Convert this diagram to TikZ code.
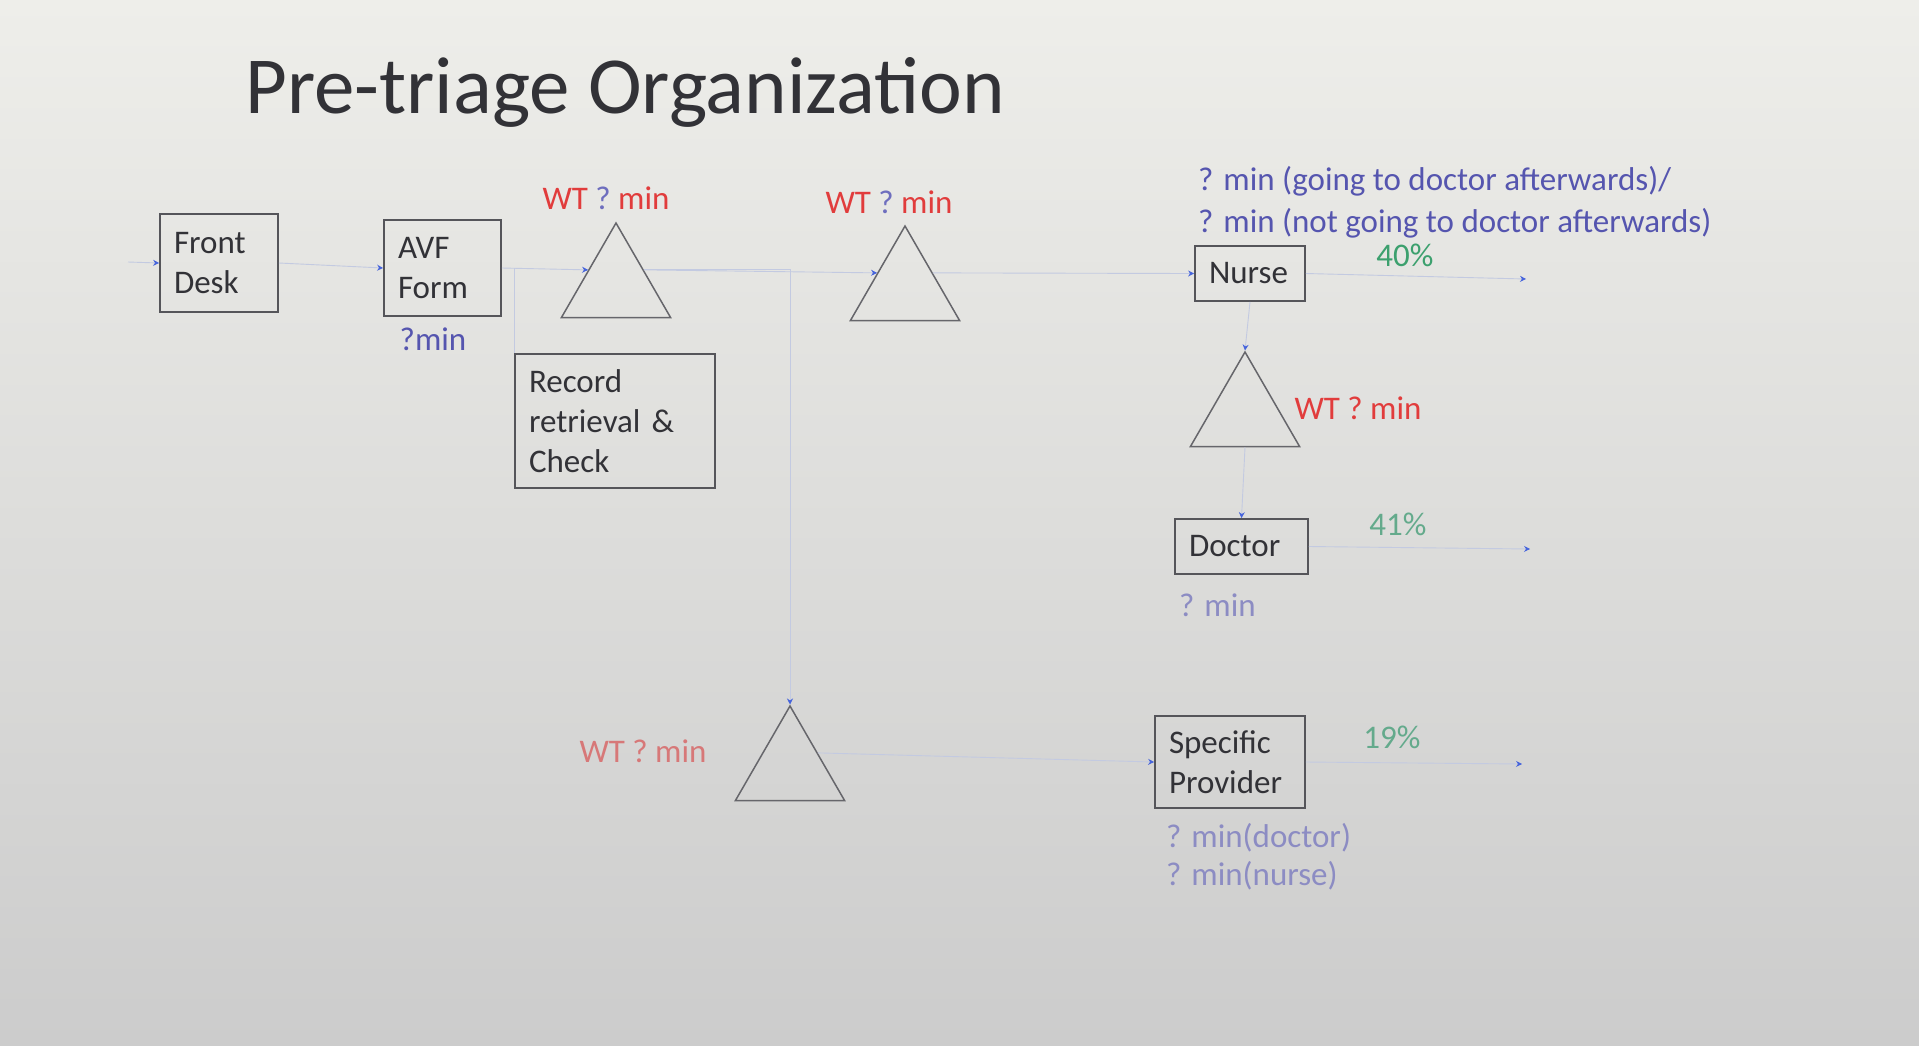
\documentclass[tikz,border=0pt]{standalone}
\usepackage{fontspec}
\setmainfont{Carlito}
\usetikzlibrary{arrows.meta,shapes.geometric}
\definecolor{bgtop}{RGB}{238,238,234}
\definecolor{bgmid}{RGB}{226,226,222}
\definecolor{bgbot}{RGB}{204,204,204}
\definecolor{boxgray}{RGB}{85,85,90}
\definecolor{txtgray}{RGB}{50,50,55}
\definecolor{wtred}{RGB}{225,60,60}
\definecolor{wtpale}{RGB}{215,120,120}
\definecolor{qblue}{RGB}{110,110,190}
\definecolor{minblue}{RGB}{85,85,175}
\definecolor{minpale}{RGB}{140,140,195}
\definecolor{pctgreen}{RGB}{60,160,110}
\definecolor{pctpale}{RGB}{100,170,140}
\definecolor{linecol}{RGB}{195,202,225}
\definecolor{tipblue}{RGB}{70,100,220}
\begin{document}
\begin{tikzpicture}[x=1pt,y=-1pt,
  bodyfont/.style={font=\fontsize{33}{40}\selectfont},
  pbox/.style={draw=boxgray,line width=1.8pt,align=left,inner sep=0pt,
    text=txtgray,bodyfont},
  waitri/.style={draw=boxgray!90,line width=1.5pt,regular polygon,
    regular polygon sides=3,minimum size=126,inner sep=0pt},
  conn/.style={draw=linecol,line width=0.9pt,
    -{Stealth[length=6pt,width=6pt,color=tipblue]}},
  plainconn/.style={draw=linecol,line width=0.9pt},
  lbl/.style={bodyfont,inner sep=0pt}]
% background
\shade[top color=bgtop,middle color=bgmid,bottom color=bgbot] (0,0) rectangle (1919,1045);
\useasboundingbox (0,0) rectangle (1919,1045);
% title
\node[anchor=base west,inner sep=0pt,text=txtgray,font=\fontsize{81}{90}\selectfont] (title) at (245,113) {Pre-triage Organization};
% process boxes
\node[pbox,minimum width=118,minimum height=98,text width=90] (fd) at (219,263) {Front\\Desk};
\node[pbox,minimum width=117,minimum height=96,text width=89] (avf) at (442.5,268) {AVF\\Form};
\node[pbox,minimum width=200,minimum height=134,text width=172] (rec) at (615,421) {Record\\retrieval \&\\Check};
\node[pbox,minimum width=110,minimum height=55,text width=82] (nurse) at (1250,273.5) {Nurse};
\node[pbox,minimum width=133,minimum height=55,text width=105] (doc) at (1241.5,546.5) {Doctor};
\node[pbox,minimum width=150,minimum height=92,text width=122] (sp) at (1230,762) {Specific\\Provider};
% waiting triangles
\node[waitri] (tri1) at (616,286) {};
\node[waitri] (tri2) at (905,289) {};
\node[waitri] (tri3) at (1245,415) {};
\node[waitri] (tri4) at (790,769) {};
% labels
\node[lbl] (wt1) at (606,198) {\textcolor{wtred}{WT} \textcolor{qblue}{?} \textcolor{wtred}{min}};
\node[lbl] (wt2) at (889,202) {\textcolor{wtred}{WT} \textcolor{qblue}{?} \textcolor{wtred}{min}};
\node[lbl,text=wtred] (wt3) at (1358,408) {WT ? min};
\node[lbl,text=wtpale] (wt4) at (643,751) {WT ? min};
\node[lbl,text=minblue] (avfmin) at (433,339) {?min};
\node[lbl,text=minblue,anchor=west] (nmin1) at (1198,181) {? min (going to doctor afterwards)/};
\node[lbl,text=minblue,anchor=west] (nmin2) at (1198,223) {? min (not going to doctor afterwards)};
\node[lbl,text=pctgreen] (p40) at (1405,255) {40\%};
\node[lbl,text=pctpale] (p41) at (1398,524) {41\%};
\node[lbl,text=pctpale] (p19) at (1392,737) {19\%};
\node[lbl,text=minpale,anchor=west] (dmin) at (1179,605) {? min};
\node[lbl,text=minpale,anchor=west] (spmin1) at (1166,838) {? min(doctor)};
\node[lbl,text=minpale,anchor=west] (spmin2) at (1166,876) {? min(nurse)};
% free ends
\coordinate (start) at (128,262);
\coordinate (out1) at (1526,279);
\coordinate (out2) at (1530,549);
\coordinate (out3) at (1522,764);
% connectors
\draw[conn] (start) -- (fd.west);
\draw[conn] (fd.east) -- (avf.west);
\draw[conn] (avf.east) -- (tri1.side 1);
\draw[plainconn] (avf.east -| rec.north west) -- (rec.north west);
\draw[conn] (tri1.side 3) -- (tri2.side 1);
\draw[conn] (tri1.side 3) -| (tri4.corner 1);
\draw[conn] (tri2.side 3) -- (nurse.west);
\draw[conn] (nurse.south) -- (tri3.corner 1);
\draw[conn] (tri3.side 2) -- (doc.north);
\draw[conn] (tri4.side 3) -- (sp.west);
\draw[conn] (nurse.east) -- (out1);
\draw[conn] (doc.east) -- (out2);
\draw[conn] (sp.east) -- (out3);
\end{tikzpicture}
\end{document}
